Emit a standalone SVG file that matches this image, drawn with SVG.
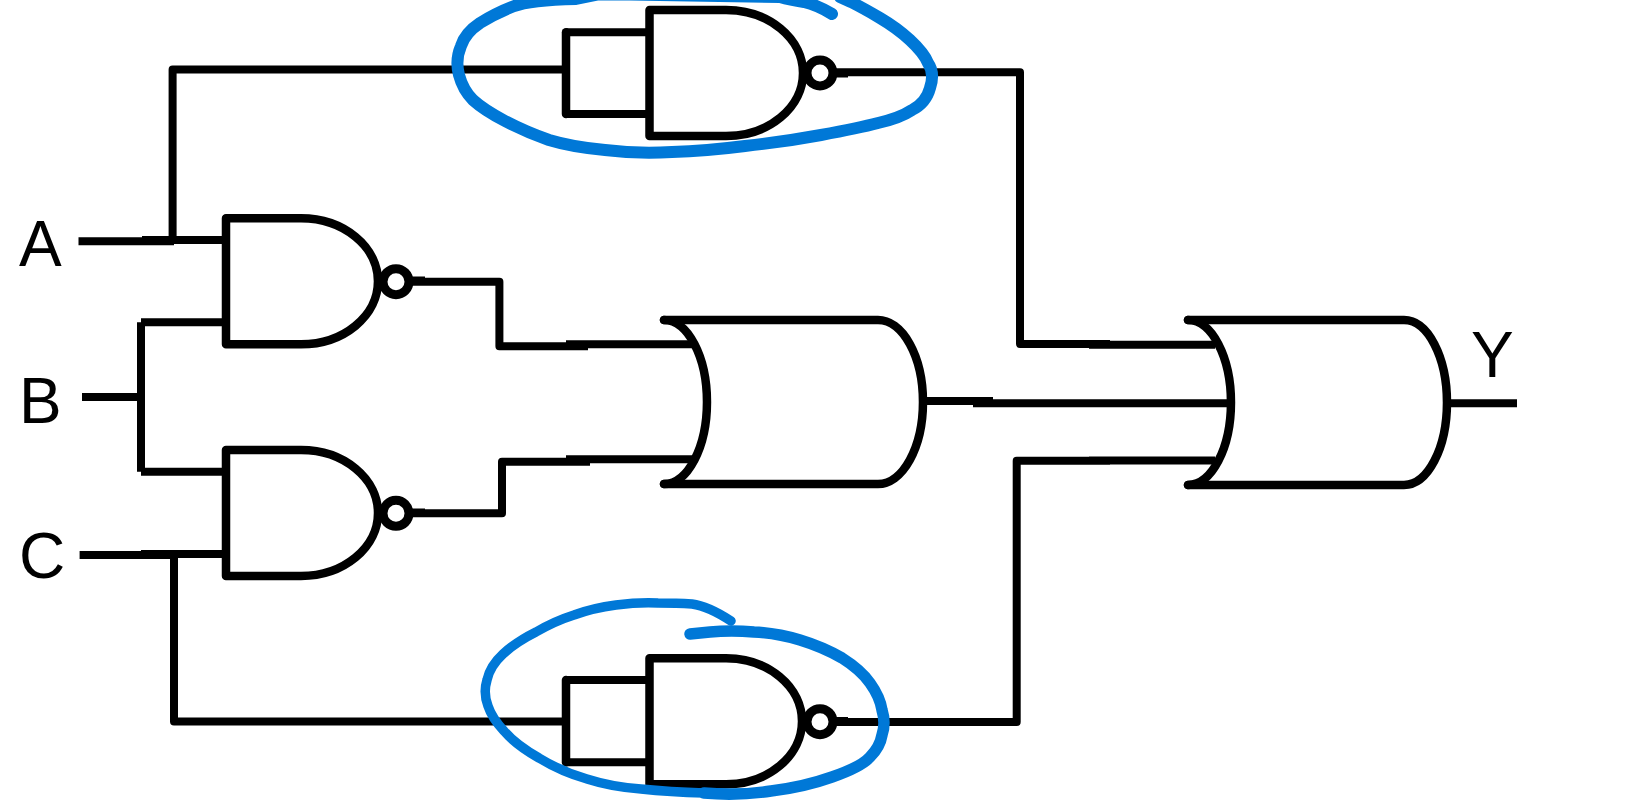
<svg xmlns="http://www.w3.org/2000/svg" width="1626" height="806" viewBox="0 0 1626 806">
<style>
.w{fill:none;stroke:#000;stroke-width:8;stroke-linejoin:round}
.g{fill:none;stroke:#000;stroke-width:8.500;stroke-linejoin:round;stroke-linecap:round}
.b{fill:none;stroke:#000;stroke-width:9}
.h{fill:none;stroke:#0078d7;stroke-linecap:round;stroke-linejoin:round}
.t{font-family:"Liberation Sans",Arial,sans-serif;font-size:64px;fill:#000}
</style>
<rect width="1626" height="806" fill="#fff"/>
<g id="connectors">
<path class="w" d="M78.500 241.300H174M142 240H226"/>
<path class="w" d="M172.600 241V69.400H566"/>
<path class="w" d="M82 397H141M141 322.300V471.700M141 322.300H226M141 471.700H226"/>
<path class="w" d="M79.600 555H173M141 554H226"/>
<path class="w" d="M174 554V721.500H566"/>
<path class="w" d="M408 280.500H425M410 281.700H499.400V346.300H588M566 344.300H693"/>
<path class="w" d="M408 512.500H425M410 513.300H502V461.700H590M566 459.300H693"/>
<path class="w" d="M926 401H993M973 403.300H1229"/>
<path class="w" d="M833 73.500H848M833 72.300H1020V344H1110M1089 344.800H1215"/>
<path class="w" d="M833 721H848M833 722H1016.700V460.700H1110M1089 460.400H1215"/>
<path class="w" d="M1447 403.300H1517"/>
<path class="w" d="M566 32.300H650M566 114H650M566 680H650M566 762.300H650"/>
</g>
<g id="nand-ab">
<path class="g" d="M226 218.300H301A77 63 0 0 1 301 344.300H226Z"/>
<circle class="b" cx="396" cy="281.700" r="13"/>
</g>
<g id="nand-bc">
<path class="g" d="M226 450H301A77 63 0 0 1 301 576H226Z"/>
<circle class="b" cx="396" cy="513.300" r="13"/>
</g>
<g id="nand-top">
<path class="g" d="M566 32.300V114"/>
<path class="g" d="M649.500 10H726A77 63 0 0 1 726 136H649.500Z"/>
<circle class="b" cx="820" cy="73" r="13"/>
</g>
<g id="nand-bottom">
<path class="g" d="M566 680V762.300"/>
<path class="g" d="M649.500 658.300H726A76 63 0 0 1 726 784.300H649.500Z"/>
<circle class="b" cx="820" cy="721.700" r="13"/>
</g>
<g id="or-middle">
<path class="g" d="M664 320H878A45 82 0 0 1 878 484H664"/>
<path class="g" d="M664 320A43 82 0 0 1 664 484"/>
</g>
<g id="or-output">
<path class="g" d="M1188 320H1404A43 82.500 0 0 1 1404 485H1188"/>
<path class="g" d="M1188 320A43 82.500 0 0 1 1188 485"/>
</g>
<g id="highlight-top">
<path class="h" stroke-width="12" d="M832 14Q817 5 804 2Q790 0 780 -3L600 -6L576 -1Q530 0 513 6.500Q496 13 480 23Q465 33 461 46Q455 60 459 75Q463 90 473 100Q484 110 505 121Q526 132 549 140Q572 147 605 150Q637 154 672 152Q706 151 745 146Q783 142 821 135Q859 128 878 123Q900 118 912 110Q926 103 930 88Q935 73 928 63Q924 53 910 40Q897 28 880 18Q863 8 851 2L840 -3"/>
</g>
<g id="highlight-bottom">
<path class="h" stroke-width="9.500" d="M731 621Q708 606 692 604Q677 603 658 603Q639 602 616 605Q593 608 574 615Q555 621 536 632Q516 642 503 654Q490 666 487 680Q483 693 488 706Q492 718 504 731Q516 745 539 758Q562 772 587 779Q612 787 641 789Q670 792 704 793"/>
<path class="h" stroke-width="11.500" d="M704 793Q738 796 771 791Q804 787 832 777Q861 767 870 757Q880 747 882 735Q886 723 882 710Q880 697 870 683Q861 670 842 658Q823 647 800 640Q777 633 754 632Q731 630 710 632L690 634"/>
</g>
<g id="labels">
<text class="t" x="19" y="266">A</text>
<text class="t" x="19" y="423">B</text>
<text class="t" x="19" y="578">C</text>
<text class="t" x="1471" y="377">Y</text>
</g>
</svg>
